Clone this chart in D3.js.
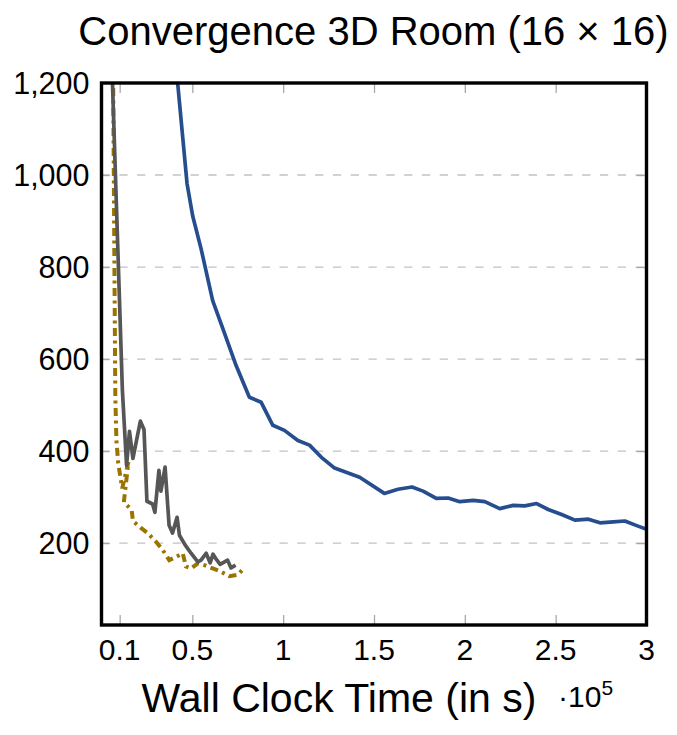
<!DOCTYPE html>
<html>
<head>
<meta charset="utf-8">
<script src="https://cdn.jsdelivr.net/npm/d3@7"></script>
<style>
    body { margin: 0; background: #fff; }
    text { font-family: "Liberation Sans", "DejaVu Sans", sans-serif; fill: #000; }
</style>
</head>
<body>
<div id="chart"></div>
<script>
// wall clock time (s) and error per run
var blueTime = [36000, 47100, 50200, 54800, 61200, 66800, 74100, 81400, 87900, 94300, 100700, 108100, 114500, 120900, 128300, 142100, 155700, 163200, 170900, 177000, 184300, 190800, 197200, 204600, 211000, 219200, 226600, 233000, 239500, 245900, 253300, 260600, 268000, 274400, 281700, 288100, 294600, 300100];
var blueValue = [1450, 981, 911, 840, 727, 666, 586, 517, 506, 456, 445, 423, 413, 387, 363, 343, 308, 317, 322, 313, 297, 298, 290, 293, 290, 275, 282, 281, 286, 273, 262, 250, 252, 244, 246, 248, 238, 230];

var grayTime = [4000, 11500, 13800, 15400, 17300, 21400, 23400, 25000, 28100, 29400, 31600, 32700, 35000, 37200, 39100, 41600, 42900, 46000, 49300, 53000, 54800, 57600, 59800, 61400, 62800, 65300, 69400, 71300, 73800];
var grayValue = [1450, 532, 369, 443, 384, 465, 447, 291, 285, 267, 358, 313, 365, 239, 222, 256, 217, 196, 178, 159, 163, 178, 157, 176, 167, 154, 163, 146, 152];

var goldTime = [6000, 7600, 8200, 9200, 11400, 14800, 12300, 16600, 17300, 21700, 25400, 30000, 33700, 37300, 41000, 44700, 46500, 49300, 53000, 56600, 61200, 65800, 70400, 75000, 78700];
var goldValue = [1450, 521, 423, 374, 319, 376, 289, 272, 248, 233, 222, 203, 185, 163, 170, 178, 149, 145, 156, 152, 145, 138, 128, 131, 147];

var xTicks = [10000, 50000, 100000, 150000, 200000, 250000, 300000];
var xTickLabels = ["0.1", "0.5", "1", "1.5", "2", "2.5", "3"];
var yTicks = [200, 400, 600, 800, 1000, 1200];

var margin = {top: 83, right: 30.5, bottom: 110, left: 101.5},
    width = 545,
    height = 542;

var xScale = d3.scaleLinear()
    .domain([0, 300000])
    .range([0, width])
    ;
var yScale = d3.scaleLinear()
    .domain([22, 1200])
    .range([height, 0])
    ;

var svg = d3.select("#chart").append("svg")
    .attr("width", 677)
    .attr("height", 735)
    ;

var svg_g = svg.append("g")
    .attr("transform", `translate(${margin.left},${margin.top})`)
    ;

svg.append("defs").append("clipPath")
    .attr("id", "plotclip")
    .append("rect")
    .attr("width", width)
    .attr("height", height)
    ;

// horizontal grid
svg_g.append("g")
    .attr("class", "grid")
    .selectAll("line")
    .data(yTicks)
    .join("line")
    .attr("x1", 0)
    .attr("x2", width)
    .attr("y1", d=>yScale(d))
    .attr("y2", d=>yScale(d))
    .attr("stroke", "#c2c2c2")
    .attr("stroke-width", 1.3)
    .attr("stroke-dasharray", "8.3,9.5")
    ;

// inner ticks
var xAxisB = d3.axisTop(xScale).tickValues(xTicks).tickSize(10).tickFormat("");
var xAxisT = d3.axisBottom(xScale).tickValues(xTicks).tickSize(10).tickFormat("");
var yAxisL = d3.axisRight(yScale).tickValues(yTicks).tickSize(8).tickFormat("");
var yAxisR = d3.axisLeft(yScale).tickValues(yTicks).tickSize(10).tickFormat("");

[[xAxisB, `translate(0,${height})`], [xAxisT, "translate(0,0)"], [yAxisL, "translate(0,0)"], [yAxisR, `translate(${width},0)`]].forEach(a=>{
    var g = svg_g.append("g")
        .attr("transform", a[1])
        .call(a[0])
        ;
    g.select(".domain").remove();
    g.selectAll("line")
        .attr("stroke", "#a8a8a8")
        .attr("stroke-width", 1.3)
        ;
});

var line = d3.line()
    .x(d=>xScale(d[0]))
    .y(d=>yScale(d[1]))
    ;

var lines = svg_g.append("g")
    .attr("clip-path", "url(#plotclip)")
    .attr("fill", "none")
    .attr("stroke-linejoin", "round")
    ;

lines.append("path")
    .attr("d", line(d3.zip(blueTime, blueValue)))
    .attr("stroke", "#264e8f")
    .attr("stroke-width", 3.7)
    ;
lines.append("path")
    .attr("d", line(d3.zip(goldTime, goldValue)))
    .attr("stroke", "#9a7400")
    .attr("stroke-width", 4)
    .attr("stroke-linejoin", "miter")
    .attr("stroke-dasharray", "8,4.5,3,4.5")
    ;
lines.append("path")
    .attr("d", line(d3.zip(grayTime, grayValue)))
    .attr("stroke", "#565656")
    .attr("stroke-width", 3.7)
    ;

// frame
svg_g.append("rect")
    .attr("width", width)
    .attr("height", height)
    .attr("fill", "none")
    .attr("stroke", "#000")
    .attr("stroke-width", 3.4)
    ;

// tick labels
svg_g.append("g")
    .selectAll("text")
    .data(xTicks)
    .join("text")
    .attr("x", d=>xScale(d))
    .attr("y", height + 35)
    .attr("text-anchor", "middle")
    .attr("font-size", 30)
    .text((d,i)=>xTickLabels[i])
    ;
svg_g.append("g")
    .selectAll("text")
    .data(yTicks)
    .join("text")
    .attr("x", -12)
    .attr("y", d=>yScale(d))
    .attr("dy", "0.36em")
    .attr("text-anchor", "end")
    .attr("font-size", 30.5)
    .text(d=>d3.format(",")(d))
    ;

// title and axis label
svg.append("text")
    .attr("x", 373.5)
    .attr("y", 45)
    .attr("text-anchor", "middle")
    .attr("font-size", 40)
    .text("Convergence 3D Room (16 \u00d7 16)")
    ;
svg.append("text")
    .attr("x", 339)
    .attr("y", 712)
    .attr("text-anchor", "middle")
    .attr("font-size", 41)
    .text("Wall Clock Time (in s)")
    ;
var expo = svg.append("text")
    .attr("x", 558)
    .attr("y", 707)
    .style("font-size", "30px")
    ;
expo.append("tspan").text("\u00b7");
expo.append("tspan").text("10");
expo.append("tspan")
    .style("font-size", "21px")
    .attr("dy", -12)
    .text("5")
    ;
</script>
</body>
</html>
